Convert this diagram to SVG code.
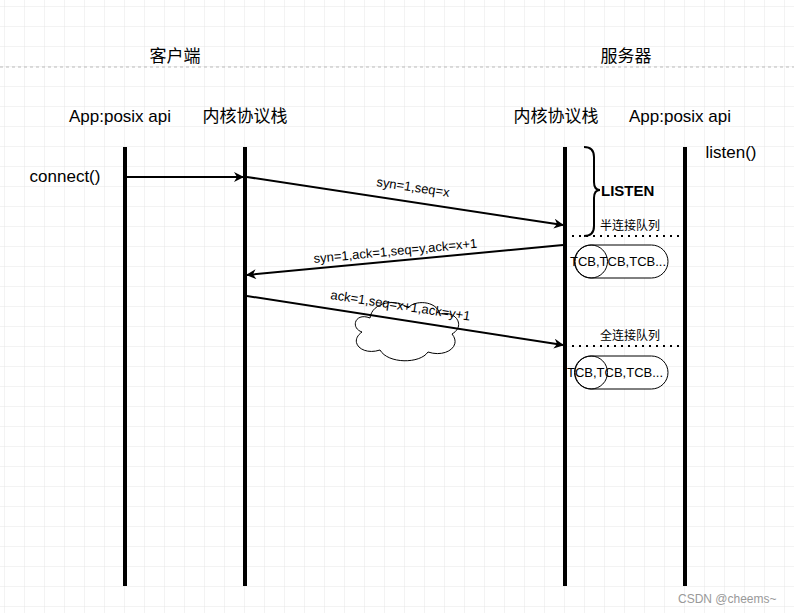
<svg xmlns="http://www.w3.org/2000/svg" width="794" height="613" viewBox="0 0 794 613">
<style>
text{font-family:"Liberation Sans",Arial,"Noto Sans CJK SC",sans-serif;fill:#000}
.t{font-size:17px;text-anchor:middle}
.s{font-size:13px}
.life{stroke:#000;stroke-width:4}
.arr{stroke:#000;stroke-width:2;fill:none;marker-end:url(#ah)}
.dot{stroke:#000;stroke-width:2;stroke-dasharray:2 5}
</style>
<defs>
<pattern id="g" width="20" height="20" patternUnits="userSpaceOnUse" x="5" y="7">
<path d="M20 0V20M0 20H20" fill="none" stroke="#e6e6e6" stroke-width="1"/>
</pattern>
<marker id="ah" viewBox="0 0 10 10" refX="9" refY="5" markerWidth="12" markerHeight="10" orient="auto" markerUnits="userSpaceOnUse">
<path d="M0 0L10 5L0 10L3 5Z" fill="#000"/>
</marker>
</defs>
<rect width="794" height="613" fill="#fff"/>
<rect width="794" height="613" fill="url(#g)"/>
<line x1="0" y1="67" x2="794" y2="67" stroke="#bbb" stroke-dasharray="3 3"/>
<text class="t" x="175" y="62">客户端</text>
<text class="t" x="626" y="62">服务器</text>
<g id="lifelines">
<line class="life" x1="125" y1="147" x2="125" y2="586"/>
<line class="life" x1="245" y1="147" x2="245" y2="586"/>
<line class="life" x1="565" y1="147" x2="565" y2="586"/>
<line class="life" x1="685" y1="147" x2="685" y2="586"/>
</g>
<g id="labels">
<text class="t" x="120" y="122">App:posix api</text>
<text class="t" x="245" y="122">内核协议栈</text>
<text class="t" x="556" y="122">内核协议栈</text>
<text class="t" x="680" y="122">App:posix api</text>
<text class="t" x="65" y="182">connect()</text>
<text class="t" x="731" y="158">listen()</text>
</g>
<g id="listen">
<path d="M584 147Q594 147 594 157V182Q594 190 600 190Q594 190 594 198V226Q594 236 584 236" fill="none" stroke="#000" stroke-width="2"/>
<text x="601" y="196" font-size="15" font-weight="bold">LISTEN</text>
</g>
<g id="queue1">
<text x="600" y="230" font-size="12">半连接队列</text>
<line class="dot" x1="572" y1="236" x2="682" y2="236"/>
<rect x="575" y="245" width="93" height="33" rx="16.5" fill="#fff" stroke="#000"/>
<circle cx="591" cy="261.5" r="16.5" fill="none" stroke="#000"/>
<text class="s" x="570" y="266">TCB,TCB,TCB...</text>
</g>
<g id="queue2">
<text x="600" y="340" font-size="12">全连接队列</text>
<line class="dot" x1="572" y1="346" x2="682" y2="346"/>
<rect x="575" y="356" width="93" height="33" rx="16.5" fill="#fff" stroke="#000"/>
<circle cx="591" cy="372.5" r="16.5" fill="none" stroke="#000"/>
<text class="s" x="567" y="377">TCB,TCB,TCB...</text>
</g>
<g id="cloud">
<path d="M370 318C355 312 350 328 362 332C348 342 362 356 380 350C388 364 420 364 428 352C446 358 462 346 452 334C466 326 456 310 440 314C436 300 414 300 408 308C396 298 372 302 370 318Z" fill="#fff" stroke="#000"/>
</g>
<g id="connectors">
<line class="arr" x1="127" y1="177" x2="243" y2="177"/>
<line class="arr" x1="247" y1="177" x2="563" y2="225"/>
<line class="arr" x1="563" y1="245" x2="247" y2="275"/>
<line class="arr" x1="247" y1="296" x2="563" y2="345"/>
<text class="s" transform="translate(376,186) rotate(8.5)">syn=1,seq=x</text>
<text class="s" transform="translate(314,263) rotate(-5.4)">syn=1,ack=1,seq=y,ack=x+1</text>
<text class="s" transform="translate(330,299) rotate(8.8)">ack=1,seq=x+1,ack=y+1</text>
</g>
<text x="678" y="603" font-size="12" style="fill:#999">CSDN @cheems~</text>
</svg>
